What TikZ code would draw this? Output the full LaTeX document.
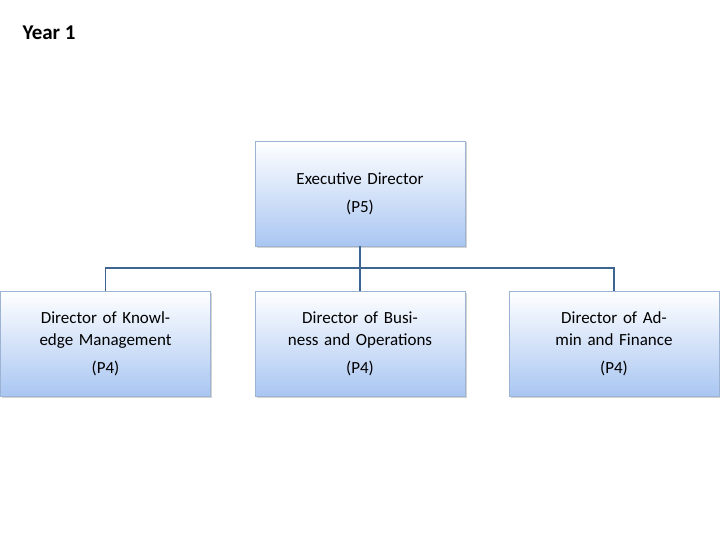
\documentclass[tikz,border=0pt]{standalone}
\usepackage{fontspec}
\setmainfont{Carlito}
\usetikzlibrary{shadows}
\definecolor{boxtop}{HTML}{FFFFFF}
\definecolor{boxbot}{HTML}{A9C6F2}
\definecolor{boxline}{HTML}{9DB3D3}
\definecolor{conn}{HTML}{3D6590}
\tikzset{
  orgbox/.style={draw=boxline, line width=0.8pt, top color=boxtop, bottom color=boxbot,
    minimum width=210pt, minimum height=105pt, text width=205pt, align=center,
    font=\fontsize{17}{22}\selectfont, inner sep=0pt,
    drop shadow={shadow xshift=1.5pt, shadow yshift=-1.5pt, opacity=0.35}},
  conn/.style={draw=conn, line width=1.6pt}
}
\begin{document}
\begin{tikzpicture}[x=1pt,y=-1pt]
\useasboundingbox (0,0) rectangle (720,540);
\node[anchor=west, font=\bfseries\fontsize{21}{24}\selectfont] (title) at (19,33) {Year 1};
\node[orgbox] (ed) at (360,193.5) {Executive Director\\[6pt](P5)};
\node[orgbox] (km) at (105.5,343.5) {Director of Knowledge Management\\[6pt](P4)};
\node[orgbox] (bo) at (360,343.5) {Director of Business and Operations\\[6pt](P4)};
\node[orgbox] (af) at (614,343.5) {Director of Admin and Finance\\[6pt](P4)};
\coordinate (j) at (360,268);
\draw[conn] (ed.south) -- (j);
\draw[conn] (km.north) |- (j) -| (af.north);
\draw[conn] (j) -- (bo.north);
\end{tikzpicture}
\end{document}
